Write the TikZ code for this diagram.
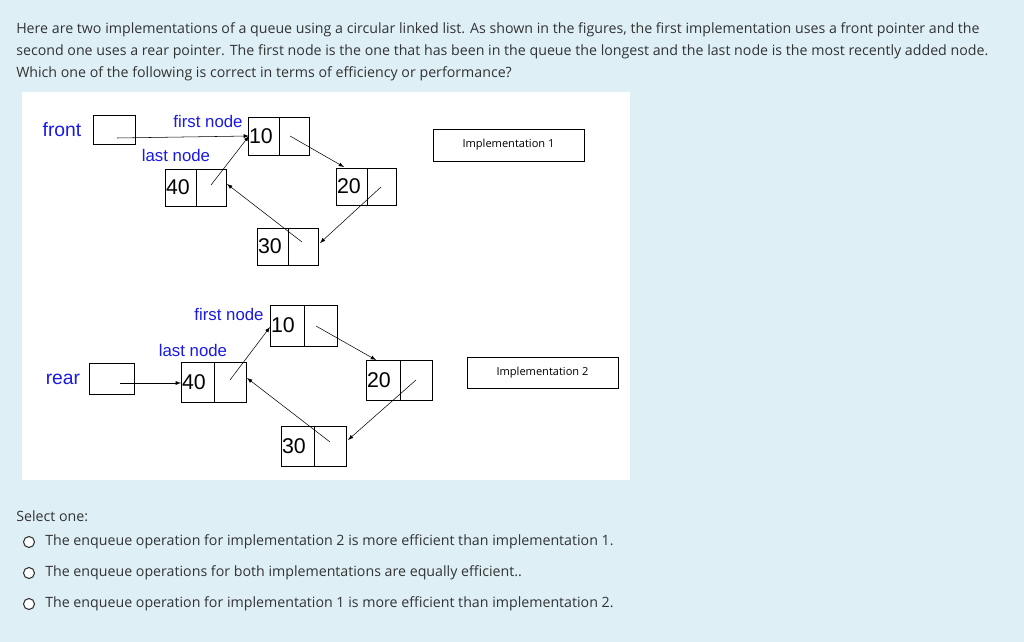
\documentclass[tikz,border=0pt]{standalone}
\usepackage{fontspec}
\setmainfont{Open Sans}
\newfontfamily\arial{Liberation Sans}
\definecolor{bg}{HTML}{DEF0F6}
\definecolor{txt}{HTML}{333333}
\definecolor{lbl}{HTML}{1A1AE6}
\begin{document}
\begin{tikzpicture}[x=0.75pt,y=-0.75pt,
  txtline/.style={anchor=west,inner sep=0,text=txt,font=\fontsize{10.65}{12}\selectfont},
  lab/.style={inner sep=0,text=lbl,font=\arial\fontsize{12.6}{14}\selectfont},
  num/.style={anchor=west,inner sep=0.6pt,font=\arial\fontsize{16}{18}\selectfont},
  cell/.style={draw,line width=0.6pt},
  ptr/.style={-latex,line width=0.4pt},
  impl/.style={draw,fill=white,line width=0.6pt,font=\fontsize{8.3}{9}\selectfont,inner sep=0}]
\fill[bg] (0,0) rectangle (1024,642);
\useasboundingbox (0,0) rectangle (1024,642);
\fill[white] (22,92) rectangle (630,480);
\node[txtline] (l1) at (16,30) {Here are two implementations of a queue using a circular linked list. As shown in the figures, the first implementation uses a front pointer and the};
\node[txtline] (l2) at (16,52) {second one uses a rear pointer. The first node is the one that has been in the queue the longest and the last node is the most recently added node.};
\node[txtline] (l3) at (16,74) {Which one of the following is correct in terms of efficiency or performance?};
% ---- top
\node[lab,font=\arial\fontsize{14.5}{16}\selectfont] (front) at (62,130) {front};
\node[cell,minimum width=42*0.75pt,minimum height=29*0.75pt,inner sep=0] (fb) at (114,129.5) {};
\coordinate (fp) at (117,138);
\foreach \n/\xa/\ya/\xb/\yb/\d/\v in {a10/248/117/309/155/279/10, a20/336/168/396/205/367/20, a40/165/169/226/206/196/40, a30/257/228/318/265/288/30,
 b40/181/362/246/402/214/40, b10/270/305/337/346/304/10, b20/366/360/432/400/400/20, b30/281/426/346/466/314/30}{
  \draw[cell] (\xa,\ya) rectangle (\xb,\yb) (\d,\ya) -- (\d,\yb);
  \node[num] (\n) at (\xa,{(\ya+\yb)/2}) {\v};
}
\coordinate (a10w) at (249,136);
\node[lab] (fn1) at (208,121) {first node};
\node[lab] (ln1) at (176,155) {last node};
\coordinate (a40p) at (211,185); \coordinate (a10p) at (290,136);
\coordinate (a20p) at (381,187); \coordinate (a30p) at (302,242);
\coordinate (a20t) at (344,167); \coordinate (a30t) at (320,243); \coordinate (a40t) at (227,184);
\draw[ptr] (fp) -- (a10w);
\draw[ptr] (a40p) -- (a10w);
\draw[ptr] (a10p) -- (a20t);
\draw[ptr] (a20p) -- (a30t);
\draw[ptr] (a30p) -- (a40t);
\node[impl,minimum width=151*0.75pt,minimum height=32*0.75pt] (i1) at (508.5,145) {Implementation 1};
% ---- bottom
\node[lab,font=\arial\fontsize{14.5}{16}\selectfont] (rear) at (63,379) {rear};
\node[cell,minimum width=45*0.75pt,minimum height=31*0.75pt,inner sep=0] (rb) at (111.5,378.5) {};
\coordinate (rp) at (120,383); \coordinate (b40w) at (181,383);
\node[lab] (fn2) at (229,314) {first node};
\node[lab] (ln2) at (193,350) {last node};
\coordinate (b40p) at (230,380); \coordinate (b10t) at (270,327);
\coordinate (b10p) at (316,326); \coordinate (b20t) at (376,360);
\coordinate (b20p) at (416,380); \coordinate (b30t) at (348,440);
\coordinate (b30p) at (330,442); \coordinate (b40t) at (247,378);
\draw[ptr] (rp) -- (b40w);
\draw[ptr] (b40p) -- (b10t);
\draw[ptr] (b10p) -- (b20t);
\draw[ptr] (b20p) -- (b30t);
\draw[ptr] (b30p) -- (b40t);
\node[impl,minimum width=151*0.75pt,minimum height=31*0.75pt] (i2) at (542.5,372.5) {Implementation 2};
% ---- options
\node[txtline] (sel) at (16,516) {Select one:};
\foreach \y/\t [count=\i] in {542/{The enqueue operation for implementation 2 is more efficient than implementation 1.},
 573/{The enqueue operations for both implementations are equally efficient..},
 604/{The enqueue operation for implementation 1 is more efficient than implementation 2.}}{
  \draw[txt,line width=0.8pt,fill=white] (29,\y) circle (5.5);
  \node[txtline] (o\i) at (45,\y) {\t};
}
\end{tikzpicture}
\end{document}
